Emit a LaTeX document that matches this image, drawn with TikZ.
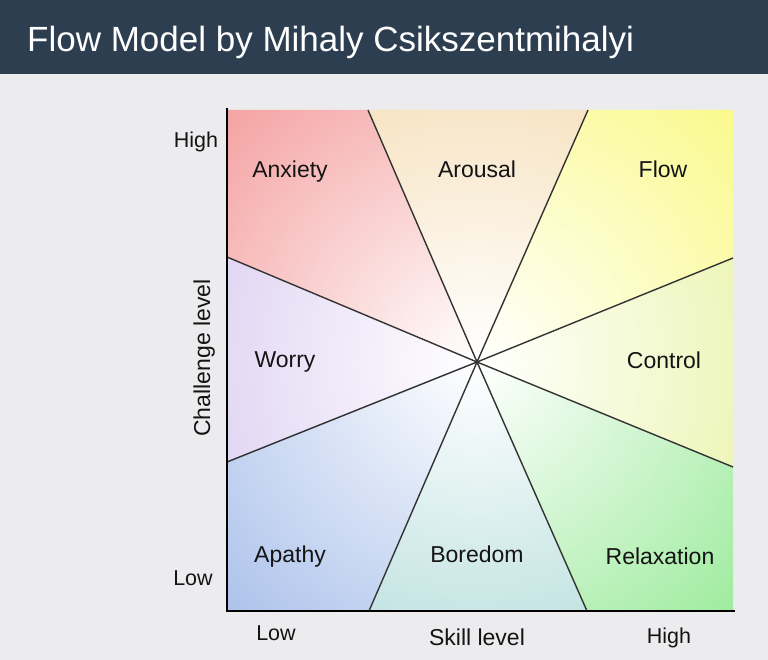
\documentclass[tikz,border=0pt]{standalone}
\usepackage{fontspec}
\setmainfont{Liberation Sans}
\usepackage{xcolor}
\usepackage{tikz}

\definecolor{titlebar}{HTML}{2C3E50}
\definecolor{pagegray}{HTML}{ECECEE}
\definecolor{anxietyc}{HTML}{F28A8A}
\definecolor{arousalc}{HTML}{F2D39E}
\definecolor{flowc}{HTML}{F8F870}
\definecolor{controlc}{HTML}{E2F08E}
\definecolor{relaxc}{HTML}{86E686}
\definecolor{boredomc}{HTML}{9CD2D0}
\definecolor{apathyc}{HTML}{96B2E6}
\definecolor{worryc}{HTML}{CEBCEC}

\begin{document}
\begin{tikzpicture}[x=1pt,y=-1pt,
    zone/.style={anchor=base,font=\fontsize{23}{27}\selectfont,text=black!92},
    tick/.style={anchor=base,font=\fontsize{21.5}{25}\selectfont,text=black!92},
    spoke/.style={draw=black!80,line width=1.4pt}]
    \useasboundingbox (0,0) rectangle (768,660);
    \fill[pagegray] (0,0) rectangle (768,660);
    \fill[titlebar] (0,0) rectangle (768,74);
    \node[anchor=base west,inner sep=0pt,text=white,font=\fontsize{35}{40}\selectfont] (title) at (27,52) {Flow Model by Mihaly Csikszentmihalyi};

    \coordinate (mid) at (477,362);
    \coordinate (nw) at (227,110);
    \coordinate (ne) at (733,110);
    \coordinate (se) at (733,611);
    \coordinate (sw) at (227,611);
    \coordinate (t1) at (368,110);
    \coordinate (t2) at (588,110);
    \coordinate (r1) at (733,258);
    \coordinate (r2) at (733,467);
    \coordinate (b1) at (587,611);
    \coordinate (b2) at (369,611);
    \coordinate (l1) at (227,462);
    \coordinate (l2) at (227,257);

    \begin{scope}
        \clip (nw) -- (t1) -- (mid) -- (l2) -- cycle;
        \shade[inner color=white,outer color=anxietyc] (mid) circle (450pt);
    \end{scope}
    \begin{scope}
        \clip (t1) -- (t2) -- (mid) -- cycle;
        \shade[inner color=white,outer color=arousalc] (mid) circle (450pt);
    \end{scope}
    \begin{scope}
        \clip (t2) -- (ne) -- (r1) -- (mid) -- cycle;
        \shade[inner color=white,outer color=flowc] (mid) circle (450pt);
    \end{scope}
    \begin{scope}
        \clip (r1) -- (r2) -- (mid) -- cycle;
        \shade[inner color=white,outer color=controlc] (mid) circle (450pt);
    \end{scope}
    \begin{scope}
        \clip (r2) -- (se) -- (b1) -- (mid) -- cycle;
        \shade[inner color=white,outer color=relaxc] (mid) circle (450pt);
    \end{scope}
    \begin{scope}
        \clip (b1) -- (b2) -- (mid) -- cycle;
        \shade[inner color=white,outer color=boredomc] (mid) circle (450pt);
    \end{scope}
    \begin{scope}
        \clip (b2) -- (sw) -- (l1) -- (mid) -- cycle;
        \shade[inner color=white,outer color=apathyc] (mid) circle (450pt);
    \end{scope}
    \begin{scope}
        \clip (l1) -- (l2) -- (mid) -- cycle;
        \shade[inner color=white,outer color=worryc] (mid) circle (450pt);
    \end{scope}

    \draw[spoke] (mid) -- (t1);
    \draw[spoke] (mid) -- (t2);
    \draw[spoke] (mid) -- (r1);
    \draw[spoke] (mid) -- (r2);
    \draw[spoke] (mid) -- (b1);
    \draw[spoke] (mid) -- (b2);
    \draw[spoke] (mid) -- (l1);
    \draw[spoke] (mid) -- (l2);

    \coordinate (ytop) at (227,108);
    \coordinate (xend) at (735,611);
    \draw[line width=2.4pt] (ytop) -- (sw) -- (xend);

    \node[zone] (anxiety) at (290,178) {Anxiety};
    \node[zone] (arousal) at (477,178) {Arousal};
    \node[zone] (flow) at (663,178) {Flow};
    \node[zone] (worry) at (285,367) {Worry};
    \node[zone] (control) at (664,368) {Control};
    \node[zone] (apathy) at (290,562) {Apathy};
    \node[zone] (boredom) at (477,562) {Boredom};
    \node[zone] (relax) at (660,564) {Relaxation};

    \node[tick] (yhigh) at (196,148) {High};
    \node[tick] (ylow) at (193,585) {Low};
    \node[tick] (xlow) at (276,640) {Low};
    \node[tick] (xhigh) at (669,643) {High};
    \node[zone] (xlabel) at (477,645) {Skill level};
    \node[zone,rotate=90] (ylabel) at (210,358) {Challenge level};
\end{tikzpicture}
\end{document}
